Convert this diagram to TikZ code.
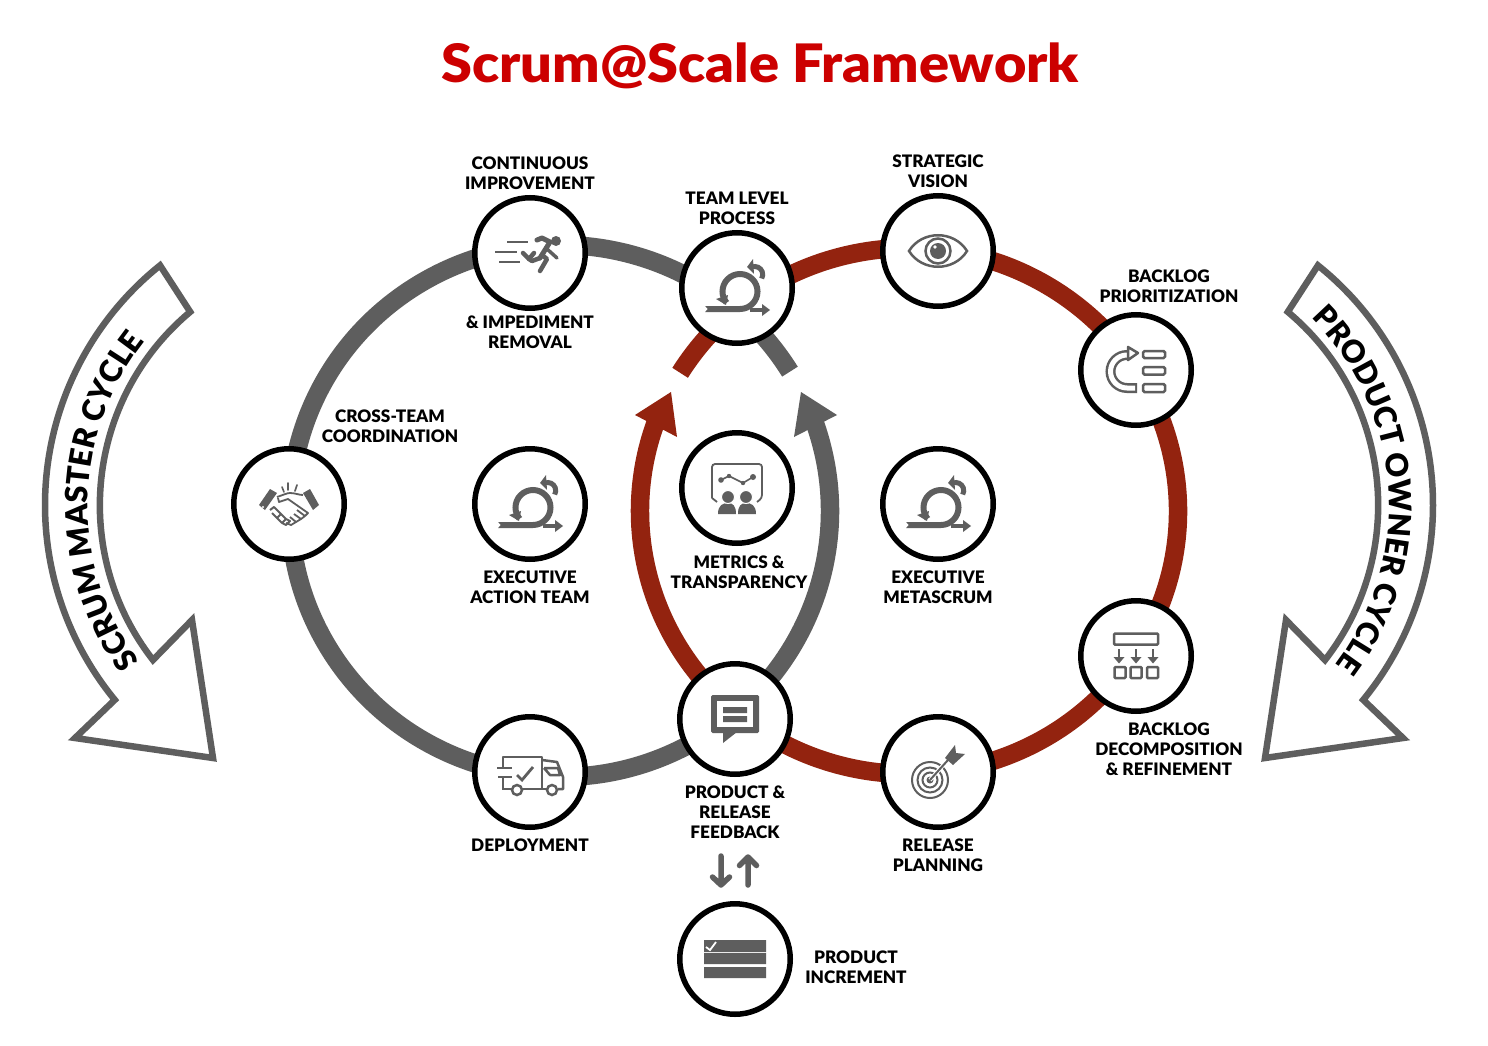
\documentclass[tikz,border=0pt]{standalone}
\usepackage{fontspec}
\setmainfont{Lato Black}
\newfontfamily\titlefont[FakeStretch=1.054]{Lato Black}
\usetikzlibrary{decorations.text,shapes.geometric}
\definecolor{iconc}{HTML}{5E5E5E}
\definecolor{ringred}{HTML}{93230F}
\definecolor{titlered}{HTML}{CC0000}
\tikzset{
  station/.style={circle,draw=black,fill=white,line width=5.5pt,minimum size=110.5pt,inner sep=0pt},
  lab/.style={font=\fontsize{17.2}{20}\selectfont,align=center,text=black,inner sep=0pt},
  ringg/.style={draw=iconc,line width=18.5pt},
  ringr/.style={draw=ringred,line width=18.5pt},
  sidearrow/.style={draw=iconc,fill=white,line width=6.5pt,miter limit=10},
  ic/.style={draw=iconc,line width=2.5pt},
  ict/.style={draw=iconc,line width=5pt,line join=round,line cap=round}
}
\newcommand\station[4]{\node[station] (#1) at (#2,#3) {};
  \begin{scope}[shift={(#2,#3)}]#4\end{scope}}
\newcommand\iconloop{%
  \draw[draw=iconc,line width=6pt] (-32,21) -- (3,21) arc[start angle=90,end angle=-220,radius=17.5];
  \fill[white] (-32.5,17.5) -- (-32.5,24.5) -- (-29.5,21) -- cycle;
  \fill[iconc] (-21,11) -- (-9,7) -- (-11,17) -- cycle;
  \draw[draw=iconc,line width=3.5pt] (13,22) -- (27,22);
  \fill[iconc] (25,16) -- (33,22) -- (25,28) -- cycle;
  \draw[draw=iconc,line width=5pt] (15,-21) arc[start angle=-110,end angle=30,radius=8];
  \fill[iconc] (10,-21) -- (16,-29) -- (17,-14) -- cycle;
}
\newcommand\iconrun{%
  \fill[iconc] (26,-12) circle (5);
  \draw[ict,line width=5pt] (7,-13) -- (12,-15) -- (20,-11) -- (10,5);
  \draw[ict,line width=4.5pt] (10,5) -- (2,8) -- (-1,6) -- (-7,0);
  \draw[ict,line width=4.5pt] (-1,6) -- (4,0);
  \draw[ict,line width=4.5pt] (12,2) -- (17,6) -- (10,18);
  \draw[ict,line width=3.5pt] (17,-4) -- (27,5);
  \draw[iconc,line width=1.5pt] (-23,-11) -- (-2,-11) (-35,-1) -- (-13,-1) (-31,9) -- (-10,9);
}
\newcommand\iconeye{%
  \draw[ic] (-29,0) .. controls (-16,-21) and (16,-21) .. (29,0) .. controls (16,21) and (-16,21) .. (-29,0) -- cycle;
  \draw[ic] (0,0) circle (12.5);
  \fill[iconc] (0,0) circle (8);
  \fill[white] (-3,-4) circle (1.8);
}
\newcommand\iconprio{%
  \draw[draw=iconc,line width=10pt] (1,18) -- (-9,18) arc[start angle=90,end angle=270,radius=16.5] -- (-7,-15);
  \draw[draw=white,line width=5pt] (-1,18) -- (-9,18) arc[start angle=90,end angle=270,radius=16.5] -- (-5,-15);
  \draw[draw=iconc,fill=white,line width=2.5pt,line join=round] (2,-17) -- (-8,-23) -- (-8,-10) -- cycle;
  \draw[ic,rounded corners=1.5pt,fill=white] (7,-19) rectangle (29,-12);
  \draw[ic,rounded corners=1.5pt,fill=white] (7,-3) rectangle (29,4.5);
  \draw[ic,rounded corners=1.5pt,fill=white] (7,14) rectangle (29,22);
}
\newcommand\icondecomp{%
  \draw[ic,rounded corners=1pt] (-22,-22.5) rectangle (22,-11.5);
  \foreach \x in {-17,0,17}{
    \draw[draw=iconc,line width=2.5pt] (\x,-7) -- (\x,4);
    \fill[iconc] (\x-5.5,1) -- (\x+5.5,1) -- (\x,7.5) -- cycle;}
  \draw[ic,rounded corners=1pt] (-21.5,11) rectangle (-10.5,22);
  \draw[ic,rounded corners=1pt] (-5.5,11) rectangle (5.5,22);
  \draw[ic,rounded corners=1pt] (11,11) rectangle (22,22);
}
\newcommand\icontarget{%
  \draw[draw=iconc,line width=2pt] (-8,8) circle (18) (-8,8) circle (12.5) (-8,8) circle (7.5);
  \fill[iconc] (-8,8) circle (3.5);
  \draw[draw=white,line width=4pt] (-8,8) -- (7,-9);
  \draw[draw=iconc,line width=2pt] (-8,8) -- (10,-12);
  \fill[iconc] (7,-14) -- (17,-27) -- (18,-19) -- (27,-18) -- (15,-7) -- cycle;
}
\newcommand\icontruck{%
  \draw[ic,line join=round] (-27,-4) -- (-27,-15) -- (12,-15) -- (12,17) -- (-8,17);
  \draw[ic] (-27,5) -- (-27,17) -- (-18,17);
  \draw[ic] (-33,-4) -- (-18,-4) (-32,5) -- (-18,5);
  \draw[draw=iconc,line width=2.8pt] (-13,3) -- (-8,8) -- (3,-5);
  \draw[ic,line join=round] (12,-12) -- (27,-10) -- (33,5) -- (33,17) -- (28,17);
  \draw[ic,line join=round] (14,-4) -- (28,-4) -- (30,3) -- (20,3) -- (14,-4);
  \draw[ic] (12,17) -- (17,17);
  \draw[ic,fill=white] (-13,18) circle (5);
  \draw[ic,fill=white] (22,18) circle (5);
}
\newcommand\iconchat{%
  \fill[iconc,rounded corners=1.5pt] (-24,-24) rectangle (24,14);
  \fill[iconc] (-12,13) -- (-12,24) -- (2,13) -- cycle;
  \fill[white] (-18,-18) rectangle (18,8);
  \fill[iconc] (-12,-12) rectangle (12,-6) (-12,-3) rectangle (12,3);
}
\newcommand\iconinc{%
  \fill[iconc] (-31,-19) rectangle (31,-7) (-31,-6) rectangle (31,5) (-31,8) rectangle (31,19);
  \draw[draw=white,line width=1.8pt] (-29,-12) -- (-25,-9) -- (-19,-17);
}
\newcommand\iconshake{%
  \fill[iconc] (-30,1) -- (-19,-15) -- (-12,-11) -- (-24,6) -- cycle;
  \fill[iconc] (14,-11) -- (21,-15) -- (30,1) -- (24,6) -- cycle;
  \fill[white] (-26,3) circle (1.2);
  \draw[draw=iconc,line width=1.6pt,line cap=round] (-7,-17) -- (-5,-12) (-1,-21) -- (-1,-14) (8,-19) -- (6,-13);
  \draw[draw=iconc,line width=1.8pt,line join=round] (-12,-7) .. controls (-6,-9) and (-2,-11) .. (1,-11)
     .. controls (6,-11) and (10,-9) .. (14,-9);
  \draw[draw=iconc,line width=1.8pt,line join=round] (-11,-6) -- (-10,-2) -- (-1,-5) -- (19,9) -- (16,12) -- (8,6);
  \draw[draw=iconc,line width=1.8pt] (16,12) -- (12,15) -- (5,10) (12,15) -- (7,18) -- (1,13) (7,18) -- (2,21) -- (-3,19);
  \draw[draw=iconc,line width=2pt,line join=round] (-19,6) -- (-15,3) -- (-8,10) -- (-12,14) -- (-17,9)
     (-12,14) -- (-7,19) -- (-3,15) -- (-8,10) (-7,19) -- (-3,21) -- (1,17) -- (-3,15);
}
\newcommand\iconmetrics{%
  \draw[draw=iconc,line width=1.8pt,rounded corners=3pt] (-25,10) -- (-25,-24) -- (25,-24) -- (25,10) -- (20,14) (-25,10) -- (-20,14);
  \draw[draw=iconc,line width=1.6pt] (-16,-8) -- (-8,-12) -- (6,-5) -- (16,-11);
  \fill[iconc] (-16,-8) circle (2.8) (-8,-12) circle (2.2) (6,-5) circle (2.2) (16,-11) circle (3);
  \fill[iconc] (-19,26) .. controls (-19,17) and (-14,15) .. (-9,15) .. controls (-4,15) and (-1,18) .. (-1,26) -- cycle;
  \fill[iconc] (19,26) .. controls (19,17) and (14,15) .. (9,15) .. controls (4,15) and (1,18) .. (1,26) -- cycle;
  \draw[fill=iconc,draw=white,line width=1pt] (-9,9) circle (6.5);
  \draw[fill=iconc,draw=white,line width=1pt] (9,9) circle (6.5);
}
\begin{document}
\begin{tikzpicture}[x=1pt,y=1pt,yscale=-1]
\useasboundingbox (0,0) rectangle (1488,1046);
\fill[white] (0,0) rectangle (1488,1046);
\node[inner sep=0pt,text=titlered,font=\titlefont\fontsize{53}{60}\selectfont] (title) at (760,65.5) {Scrum@Scale Framework};

% rings
\draw[ringr] (909,511) ++(-148.3:269 and 263) arc[start angle=-148.3,end angle=200,x radius=269,y radius=263];
\fill[ringred] (671,392) -- (635,415) -- (677,437) -- cycle;
\draw[ringg] (560,511) ++(-31.6:270 and 266) arc[start angle=-31.6,end angle=-380,x radius=270,y radius=266];
\fill[iconc] (801,392) -- (837,415) -- (794,437) -- cycle;

% side arrows
\draw[sidearrow] (352,505) ++(231.3:307) arc[start angle=231.3,end angle=140.6,radius=307]
  -- (75,738) -- (213,758) -- (192,620) -- (153,660)
  arc[start angle=142.1,end angle=230.1,radius=252] -- cycle;
\draw[sidearrow] (1126,505) ++(-51.3:307) arc[start angle=-51.3,end angle=39.4,radius=307]
  -- (1403,738) -- (1265,758) -- (1286,620) -- (1325,660)
  arc[start angle=37.9,end angle=-50.1,radius=252] -- cycle;

% stations
\station{improve}{530}{253}{\iconrun}
\station{team}{737}{288}{\iconloop}
\station{vision}{938}{251}{\iconeye}
\station{prio}{1136}{370}{\iconprio}
\station{decomp}{1136}{656}{\icondecomp}
\station{plan}{938}{772}{\icontarget}
\station{feedback}{735}{719}{\iconchat}
\station{deploy}{530}{772}{\icontruck}
\station{coord}{289}{504}{\iconshake}
\station{action}{530}{504}{\iconloop}
\station{metrics}{737}{488}{\iconmetrics}
\station{meta}{938}{504}{\iconloop}
\station{increment}{735}{959}{\iconinc}

% labels
\node[lab] (l1) at (530,173) {CONTINUOUS\\IMPROVEMENT};
\node[lab] (l2) at (530,332) {\& IMPEDIMENT\\REMOVAL};
\node[lab] (l3) at (737,208.5) {TEAM LEVEL\\PROCESS};
\node[lab] (l4) at (938,171.5) {STRATEGIC\\VISION};
\node[lab] (l5) at (1169,286) {BACKLOG\\PRIORITIZATION};
\node[lab] (l6) at (390,426) {CROSS-TEAM\\COORDINATION};
\node[lab] (l7) at (530,587) {EXECUTIVE\\ACTION TEAM};
\node[lab] (l8) at (739,572.5) {METRICS \&\\TRANSPARENCY};
\node[lab] (l9) at (938,587) {EXECUTIVE\\METASCRUM};
\node[lab] (l10) at (1169,749) {BACKLOG\\DECOMPOSITION\\\& REFINEMENT};
\node[lab] (l11) at (530,845) {DEPLOYMENT};
\node[lab] (l12) at (938,855) {RELEASE\\PLANNING};
\node[lab] (l13) at (735,812) {PRODUCT \&\\RELEASE\\FEEDBACK};
\node[lab] (l14) at (856,967) {PRODUCT\\INCREMENT};

% up/down arrows
\coordinate (d1) at (721,856); \coordinate (d2) at (721,885);
\coordinate (u1) at (748,885); \coordinate (u2) at (748,857);
\draw[ict,line width=5.5pt] (d1) -- (d2) (712.5,877) -- (d2) -- (729.5,877);
\draw[ict,line width=5.5pt] (u1) -- (u2) (739.5,865.5) -- (u2) -- (756.5,865.5);

% curved text
\path[decorate,decoration={text along path,text align=center,
   text={|\fontsize{30.8}{30.8}\selectfont|SCRUM MASTER CYCLE}}]
   (352,505) ++(140:264) arc[start angle=140,end angle=222,radius=264];
\path[decorate,decoration={text along path,text align=center,
   text={|\fontsize{30.8}{30.8}\selectfont|PRODUCT OWNER CYCLE}}]
   (1126,505) ++(-49:263) arc[start angle=-49,end angle=41,radius=263];
\end{tikzpicture}
\end{document}
